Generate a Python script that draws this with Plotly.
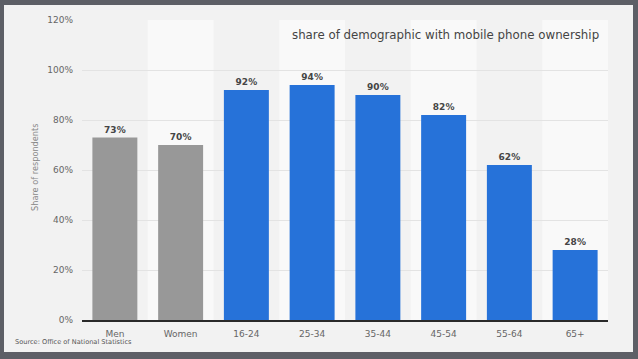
import plotly.graph_objects as go

categories = ["Men", "Women", "16-24", "25-34", "35-44", "45-54", "55-64", "65+"]
values = [73, 70, 92, 94, 90, 82, 62, 28]
bar_colors = ["#989898", "#989898", "#2672d9", "#2672d9", "#2672d9", "#2672d9", "#2672d9", "#2672d9"]
y_ticks = [0, 20, 40, 60, 80, 100, 120]
y_tick_labels = ["0%", "20%", "40%", "60%", "80%", "100%", "120%"]
title_text = "share of demographic with mobile phone ownership"
y_title = "Share of respondents"
source_text = "Source: Office of National Statistics"

W, H = 638, 359
px = lambda x: x / W
py = lambda y: 1 - y / H

fig = go.Figure()
fig.add_trace(go.Bar(
    x=categories, y=values,
    marker=dict(color=bar_colors, line=dict(width=0)),
    text=[f"<b>{v}%</b>" for v in values], textposition="outside",
    textfont=dict(family="DejaVu Sans", size=9, color="#454545"),
    cliponaxis=False, hoverinfo="skip",
))

shapes = [
    dict(type="rect", xref="paper", yref="paper", x0=px(4), x1=px(633), y0=py(352), y1=py(5),
         fillcolor="#f2f2f2", line=dict(width=0), layer="below"),
]
for i in range(len(categories)):
    if i % 2 == 1:
        shapes.append(dict(type="rect", xref="x", yref="y", x0=i - 0.5, x1=i + 0.5, y0=0, y1=120,
                           fillcolor="#f9f9f9", line=dict(width=0), layer="below"))

fig.update_layout(
    width=W, height=H,
    margin=dict(l=0, r=0, t=0, b=0),
    paper_bgcolor="#5d5f66",
    plot_bgcolor="rgba(0,0,0,0)",
    showlegend=False,
    bargap=0.316,
    shapes=shapes,
    xaxis=dict(domain=[px(82), px(608)], showgrid=False, showline=True, linecolor="#2a2a2a",
               linewidth=1.5, ticks="", automargin=False, ticklabelstandoff=4,
               tickfont=dict(family="DejaVu Sans", size=9, color="#666666"), fixedrange=True),
    yaxis=dict(domain=[py(320), py(20)], range=[0, 120], tickvals=y_ticks, ticktext=y_tick_labels,
               showgrid=True, gridcolor="#e3e3e3", gridwidth=1, zeroline=False, showline=False,
               ticks="", automargin=False, ticklabelstandoff=8,
               tickfont=dict(family="DejaVu Sans", size=9, color="#666666"), fixedrange=True),
    annotations=[
        dict(text=title_text, xref="paper", yref="paper", x=px(601), y=py(35), xanchor="right",
             yanchor="middle", showarrow=False, font=dict(family="DejaVu Sans", size=11.8, color="#444444")),
        dict(text=y_title, xref="paper", yref="paper", x=px(35), y=py(167), xanchor="center",
             yanchor="middle", textangle=-90, showarrow=False,
             font=dict(family="DejaVu Sans", size=8.2, color="#888888")),
        dict(text=source_text, xref="paper", yref="paper", x=px(13), y=py(342), xanchor="left",
             yanchor="middle", showarrow=False, font=dict(family="DejaVu Sans", size=6.6, color="#555555")),
    ],
)

fig.write_html("out.html", config={"displayModeBar": False},
               post_script="document.body.style.margin='0';document.body.style.overflow='hidden';")
